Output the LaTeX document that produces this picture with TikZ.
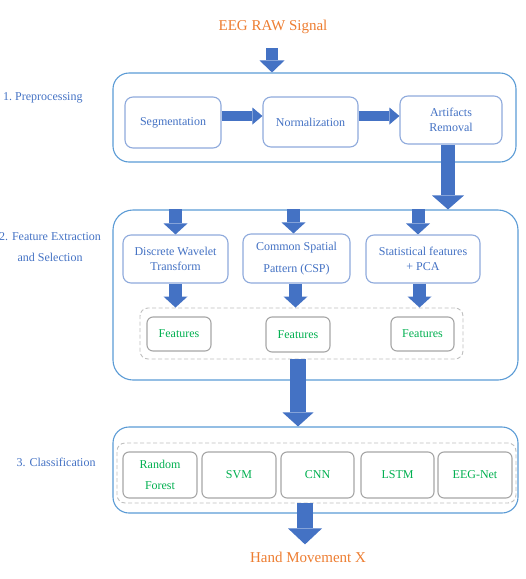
\documentclass[tikz,border=0pt]{standalone}
\usepackage{fontspec}
\setmainfont{Liberation Serif}
\usetikzlibrary{arrows.meta,calc}
\definecolor{arrowblue}{HTML}{4472C4}
\definecolor{outerblue}{HTML}{5B9BD5}
\definecolor{innerblue}{HTML}{8FAADC}
\definecolor{txtblue}{HTML}{4472C4}
\definecolor{orng}{HTML}{ED7D31}
\definecolor{grn}{HTML}{00B050}
\definecolor{boxgray}{HTML}{A6A6A6}
\definecolor{dashgray}{HTML}{BFBFBF}
\tikzset{
  outerbox/.style={draw=outerblue, line width=1.1pt, rounded corners=16pt, inner sep=0pt},
  stepbox/.style={draw=innerblue, line width=1.1pt, rounded corners=8pt, fill=white, text=txtblue, align=center, inner sep=0pt, font=\fontsize{12}{14.5}\selectfont},
  featbox/.style={draw=boxgray, line width=1.1pt, rounded corners=6pt, fill=white, text=grn, align=center, inner sep=0pt, font=\fontsize{12}{21}\selectfont},
  dashbox/.style={draw=dashgray, line width=0.9pt, dash pattern=on 4pt off 2.5pt, rounded corners=8pt, inner sep=0pt},
  lbl/.style={text=txtblue, font=\fontsize{12}{21}\selectfont, align=center, inner sep=0pt},
  ttl/.style={text=orng, font=\fontsize{15}{18}\selectfont, inner sep=0pt},
  blk/.style n args={3}{draw=arrowblue, line width=#1, -{Triangle[width=#2,length=#3,line width=0pt]}}
}
\begin{document}
\begin{tikzpicture}[x=1pt,y=-1pt]
\useasboundingbox (0,0) rectangle (526,579);
% titles
\node[ttl, anchor=base] (src) at (273,30) {EEG RAW Signal};
\node[ttl, anchor=base] (hand) at (308,562) {Hand Movement X};
% stage labels
\node[lbl, anchor=west] (l1) at (3,98) {1.\ Preprocessing};
\node[lbl] (l2) at (50,247) {2. Feature Extraction\\and Selection};
\node[lbl] (l3) at (56,462) {3. Classification};
% stage 1
\node[outerbox, minimum width=403pt, minimum height=89pt] (box1) at (314.5,117.5) {};
\node[stepbox, minimum width=96pt, minimum height=51pt] (seg) at (173,122.5) {Segmentation};
\node[stepbox, minimum width=95pt, minimum height=50pt] (norm) at (310.5,122) {Normalization};
\node[stepbox, minimum width=102pt, minimum height=48pt] (art) at (451,120) {Artifacts\\Removal};
% stage 2
\node[outerbox, rounded corners=20pt, minimum width=405pt, minimum height=170pt] (box2) at (315.5,295) {};
\node[stepbox, minimum width=105pt, minimum height=48pt] (dwt) at (175.5,259) {Discrete Wavelet\\Transform};
\node[stepbox, minimum width=107pt, minimum height=49pt, font=\fontsize{12}{22}\selectfont] (csp) at (296.5,258.5) {Common Spatial\\Pattern (CSP)};
\node[stepbox, minimum width=114pt, minimum height=48pt] (stat) at (423,259) {Statistical features\\+ PCA};
\node[dashbox, minimum width=323pt, minimum height=51pt] (dash1) at (301.5,333.5) {};
\node[featbox, minimum width=64pt, minimum height=34pt] (f1) at (179,334) {Features};
\node[featbox, minimum width=64pt, minimum height=35pt] (f2) at (298,334.5) {Features};
\node[featbox, minimum width=63pt, minimum height=34pt] (f3) at (422.5,334) {Features};
% stage 3
\node[outerbox, minimum width=405pt, minimum height=86pt] (box3) at (315.5,470) {};
\node[dashbox, minimum width=399pt, minimum height=60pt] (dash2) at (316.5,473) {};
\node[featbox, minimum width=74pt, minimum height=46pt] (rf) at (160,475) {Random\\Forest};
\node[featbox, minimum width=74pt, minimum height=46pt] (svm) at (239,475) {SVM};
\node[featbox, minimum width=73pt, minimum height=46pt] (cnn) at (317.5,475) {CNN};
\node[featbox, minimum width=73pt, minimum height=46pt] (lstm) at (397.5,475) {LSTM};
\node[featbox, minimum width=74pt, minimum height=46pt] (eeg) at (475,475) {EEG-Net};
% arrows
\coordinate (a0) at (272,48);
\coordinate (h1) at (0,116);
\draw[blk={12pt}{25pt}{12pt}] (a0) -- (a0 |- box1.north);
\draw[blk={9.5pt}{17pt}{10pt}] (seg.east |- h1) -- (norm.west |- h1);
\draw[blk={9.5pt}{17pt}{10pt}] (norm.east |- h1) -- (art.west |- h1);
\draw[blk={14pt}{32pt}{14pt}] ([xshift=-3pt]art.south) -- ([xshift=-3pt]art.south |- box2.north);
\draw[blk={13pt}{24pt}{11pt}] (dwt.north |- box2.north) -- (dwt.north);
\draw[blk={13pt}{24pt}{11pt}] ([xshift=-3pt]csp.north |- box2.north) -- ([xshift=-3pt]csp.north);
\draw[blk={13pt}{24pt}{11pt}] ([xshift=-5pt]stat.north |- box2.north) -- ([xshift=-5pt]stat.north);
\draw[blk={13pt}{24pt}{11pt}] (dwt.south) -- (dwt.south |- dash1.north);
\draw[blk={13pt}{24pt}{11pt}] ([xshift=-1pt]csp.south) -- ([xshift=-1pt]csp.south |- dash1.north);
\draw[blk={13pt}{24pt}{11pt}] ([xshift=-3.5pt]stat.south) -- ([xshift=-3.5pt]stat.south |- dash1.north);
\draw[blk={16pt}{31pt}{14pt}] (f2.south |- dash1.south) -- (f2.south |- box3.north);
\coordinate (hn) at ([xshift=-3pt,yshift=7pt]hand.north);
\draw[blk={16pt}{34pt}{16pt}] (hn |- dash2.south) -- (hn);
\end{tikzpicture}
\end{document}
